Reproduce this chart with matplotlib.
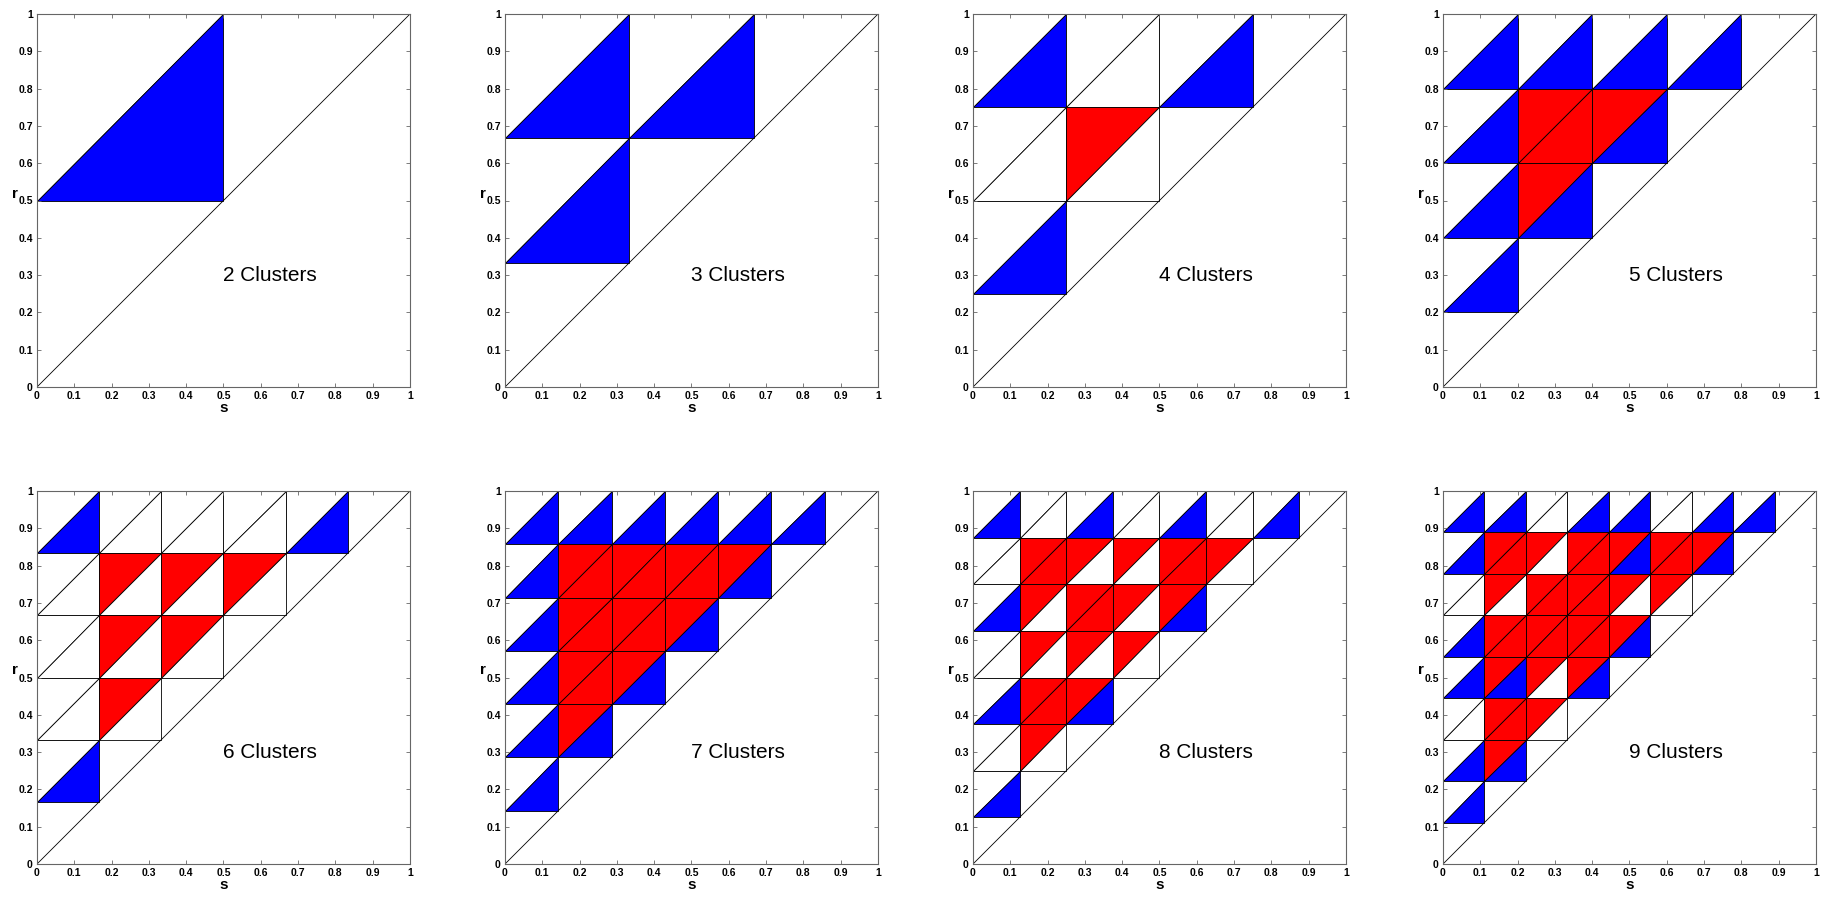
import matplotlib
matplotlib.use("Agg")
import matplotlib.pyplot as plt
from matplotlib.patches import Polygon

plt.rcParams['font.family'] = ['Liberation Sans', 'DejaVu Sans']

# number of clusters for each panel
clusters = [2, 3, 4, 5, 6, 7, 8, 9]

# triangle colours per grid row, top row first.
# each pair = (upper-left, lower-right) half of a cell, w=white b=blue r=red
pattern2 = ["wb"]
pattern3 = ["wb wb", "wb"]
pattern4 = ["wb ww wb", "ww rw", "wb"]
pattern5 = ["wb wb wb wb", "wb rr rb", "wb rb", "wb"]
pattern6 = ["wb ww ww ww wb", "ww rw rw rw", "ww rw rw", "ww rw", "wb"]
pattern7 = ["wb wb wb wb wb wb", "wb rr rr rr rb", "wb rr rr rb", "wb rr rb", "wb rb", "wb"]
pattern8 = ["wb ww wb ww wb ww wb", "ww rr rw rw rr rw", "wb rw rr rw rb",
            "ww rw rw rw", "wb rr rb", "ww rw", "wb"]
pattern9 = ["wb wb ww wb wb ww wb wb", "wb rr rw rr rb rr rb", "ww rw rr rr rw rw",
            "wb rr rr rr rb", "wb rb rw rb", "ww rr rw", "wb rb", "wb"]
patterns = [pattern2, pattern3, pattern4, pattern5, pattern6, pattern7, pattern8, pattern9]

ticks = [0, 0.1, 0.2, 0.3, 0.4, 0.5, 0.6, 0.7, 0.8, 0.9, 1]
tick_labels = ["0", "0.1", "0.2", "0.3", "0.4", "0.5", "0.6", "0.7", "0.8", "0.9", "1"]

colors = {"w": "white", "b": "#0000ff", "r": "#ff0000"}

W, H = 1831, 902
fig = plt.figure(figsize=(W / 100, H / 100), dpi=100)

lefts = [37, 505, 973, 1443]
bottoms = [H - 387, H - 864]
size = 373

for k, (n, pat) in enumerate(zip(clusters, patterns)):
    row, col = divmod(k, 4)
    ax = fig.add_axes([lefts[col] / W, bottoms[row] / H, size / W, size / H])
    d = 1.0 / n
    for t, line in enumerate(pat):
        i = n - 1 - t
        cells = line.split()
        for j, cell in enumerate(cells):
            s0, r0 = j * d, i * d
            upper = [(s0, r0), (s0, r0 + d), (s0 + d, r0 + d)]
            lower = [(s0, r0), (s0 + d, r0), (s0 + d, r0 + d)]
            ax.add_patch(Polygon(upper, closed=True, facecolor=colors[cell[0]],
                                 edgecolor="black", linewidth=0.6))
            ax.add_patch(Polygon(lower, closed=True, facecolor=colors[cell[1]],
                                 edgecolor="black", linewidth=0.6))
    ax.plot([0, 1], [0, 1], color="black", linewidth=0.6)

    ax.set_xlim(0, 1)
    ax.set_ylim(0, 1)
    ax.set_xticks(ticks)
    ax.set_yticks(ticks)
    ax.set_xticklabels(tick_labels, fontsize=7.5, fontweight="bold")
    ax.set_yticklabels(tick_labels, fontsize=7.5, fontweight="bold")
    ax.tick_params(direction="in", length=3, width=0.6, color="#666666",
                   top=True, right=True, pad=3)
    for sp in ax.spines.values():
        sp.set_color("#666666")
        sp.set_linewidth(0.8)

    ax.set_xlabel("s", fontsize=11, fontweight="bold", labelpad=0)
    ax.set_ylabel("r", fontsize=11, fontweight="bold", rotation=0)
    ax.yaxis.set_label_coords(-0.06, 0.5)

    ax.text(0.5, 0.3, f"{n} Clusters", fontsize=15, ha="left", va="center")

fig.savefig("out.png", dpi=100)
